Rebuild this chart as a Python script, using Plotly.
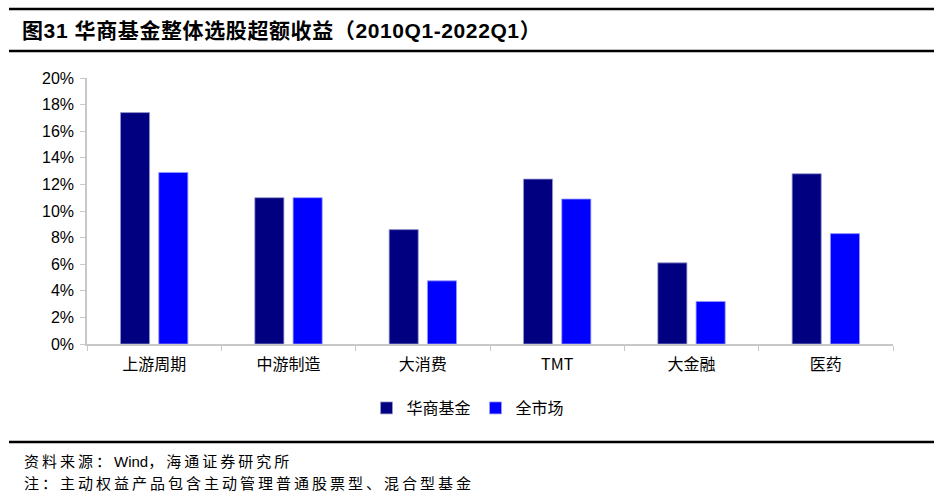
import plotly.graph_objects as go

categories = ["上游周期", "中游制造", "大消费", "TMT", "大金融", "医药"]
huashang = [17.4, 11.0, 8.6, 12.4, 6.1, 12.8]
market = [12.9, 11.0, 4.75, 10.9, 3.2, 8.3]
series_names = ["华商基金", "全市场"]
tick_vals = [0, 2, 4, 6, 8, 10, 12, 14, 16, 18, 20]
tick_text = [f"{v}%" for v in tick_vals]

W, H = 945, 498
L, R, T, B = 87, 893, 78, 344

fig = go.Figure()
fig.add_trace(go.Bar(x=categories, y=huashang, name=series_names[0],
                     marker=dict(color="#000080", line=dict(color="#9a9ad0", width=0.8))))
fig.add_trace(go.Bar(x=categories, y=market, name=series_names[1],
                     marker=dict(color="#0000FF", line=dict(color="#9a9aff", width=0.8))))

cjk = "Noto Sans CJK SC"
fig.update_layout(
    width=W, height=H,
    margin=dict(l=L, r=W - R, t=T, b=H - B),
    paper_bgcolor="white", plot_bgcolor="white",
    barmode="group", bargap=0.43, bargroupgap=0.24,
    showlegend=True,
    legend=dict(orientation="h", x=(468 - L) / (R - L), xanchor="center",
                y=(B - 408) / (B - T), yanchor="middle",
                font=dict(family=cjk, size=16, color="black"), itemwidth=30,
                traceorder="normal"),
    font=dict(family="Liberation Sans, Arial", color="black"),
)
fig.update_yaxes(range=[0, 20], tickvals=tick_vals, ticktext=tick_text,
                 showgrid=False, zeroline=False, showline=True, linecolor="#c8c8c8", linewidth=1.5,
                 ticks="outside", ticklen=5, tickcolor="#c8c8c8", ticklabelstandoff=3,
                 tickfont=dict(family="Liberation Sans, Arial", size=16, color="black"))
fig.update_xaxes(showgrid=False, showline=True, linecolor="#c8c8c8", linewidth=1.5,
                 ticks="outside", ticklen=5, tickcolor="#c8c8c8", tickson="boundaries",
                 ticklabelstandoff=5,
                 tickfont=dict(family=cjk, size=16, color="black"))

def hline(y, x0=9, x1=934, w=2.5):
    fig.add_shape(type="line", xref="paper", yref="paper",
                  x0=(x0 - L) / (R - L), x1=(x1 - L) / (R - L),
                  y0=(B - y) / (B - T), y1=(B - y) / (B - T),
                  line=dict(color="black", width=w))

hline(9)
hline(51)
hline(442)

def sp(s, spacing):
    return f"<span style='letter-spacing:{spacing}px'>{s}</span>"

def text(x, y, s, size, bold=False, family=cjk):
    fig.add_annotation(xref="paper", yref="paper",
                       x=(x - L) / (R - L), y=(B - y) / (B - T),
                       xanchor="left", yanchor="middle", showarrow=False,
                       text=f"<b>{s}</b>" if bold else s,
                       font=dict(family=family, size=size, color="black"))

fam = "Liberation Sans, Noto Sans CJK SC"
text(20, 30, sp("图31 华商基金整体选股超额收益（2010Q1-2022Q1）", 0.6), 21, bold=True, family=fam)
text(22, 461, sp("资料来源：", 3) + "Wind" + sp("，海通证券研究所", 3), 15, family=fam)
text(22, 484, sp("注：主动权益产品包含主动管理普通股票型、混合型基金", 3), 15, family=fam)

fig.write_html("out.html")
